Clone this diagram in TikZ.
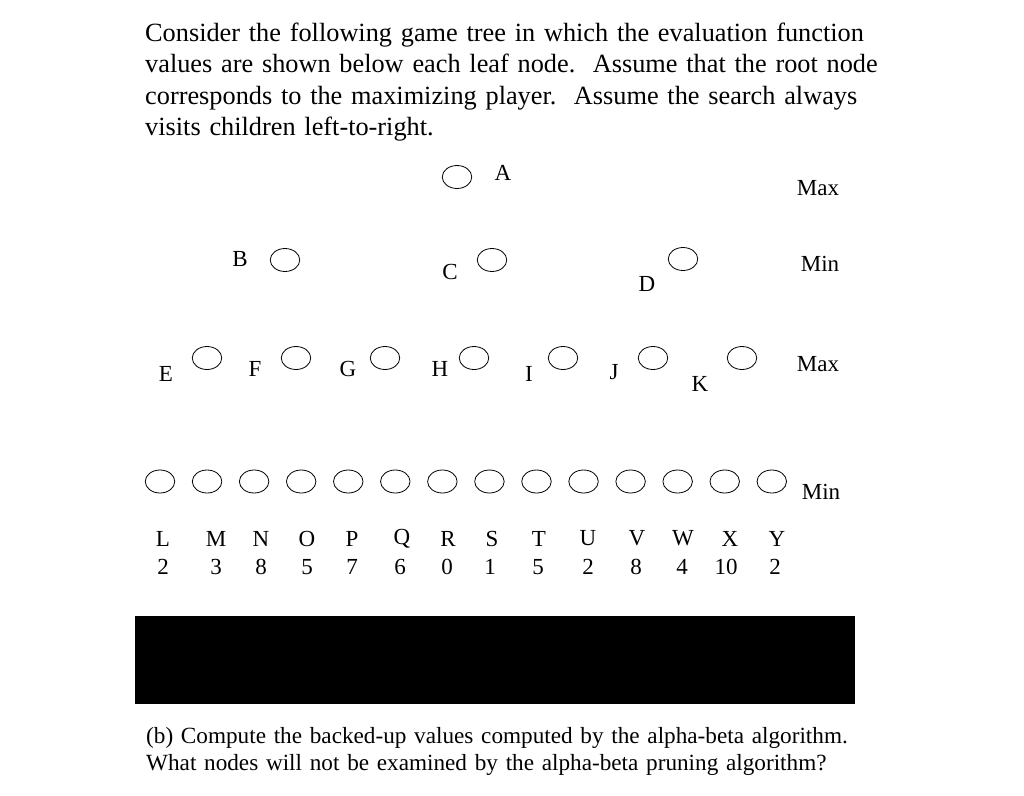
\documentclass[tikz,border=0pt]{standalone}
\usepackage{fontspec}
\setmainfont{Liberation Serif}
\usetikzlibrary{shapes.geometric}

\begin{document}
\begin{tikzpicture}[x=1pt, y=-1pt, node distance=47.06pt,
  state/.style={draw, ellipse, minimum width=29.5pt, minimum height=23pt, inner sep=0pt, line width=0.8pt},
  lbl/.style={font=\fontsize{23}{26}\selectfont, inner sep=0pt}]
  \useasboundingbox (0,0) rectangle (1024,795);

  \node[anchor=base west, text width=800pt, inner sep=0pt, font=\fontsize{26.3}{31.2}\selectfont] (intro) at (145,41.7)
    {Consider the following game tree in which the evaluation function\\
     values are shown below each leaf node.\ \ Assume that the root node\\
     corresponds to the maximizing player.\ \ Assume the search always\\
     visits children left-to-right.};

  % max and min levels
  \node[lbl] (lv1) at (818,188) {Max};
  \node[lbl] (lv2) at (820,264) {Min};
  \node[lbl] (lv3) at (818,364) {Max};
  \node[lbl] (lv4) at (821,492) {Min};

  \node[state] (A) at (457,177) {};
  \node[lbl] (lA) at (503,173) {A};
  \node[state] (B) at (285,260) {};
  \node[lbl] (lB) at (240,259) {B};
  \node[state] (C) at (492,260) {};
  \node[lbl] (lC) at (450,272) {C};
  \node[state] (D) at (683,259) {};
  \node[lbl] (lD) at (647,284) {D};

  \foreach \n/\x/\lx/\ly in {E/207/166/374, F/296/255/369, G/385/348/369, H/474/440/369,
                             I/563/529/374, J/653/614/372, K/742/700/384}
  {
    \node[state] (\n) at (\x,358) {};
    \node[lbl] (l\n) at (\lx,\ly) {\n};
  }

  % leaves
  \node[state] (L) at (160,481.5) {};
  \foreach \n [remember=\n as \p (initially L)] in {M,N,O,P,Q,R,S,T,U,V,W,X,Y}
    \node[state, right of=\p] (\n) {};

  \foreach \n/\x/\v/\vx in {L/163/2/163, M/216/3/216, N/261/8/261, O/307/5/307, P/352/7/352,
                            Q/402/6/400, R/448/0/447, S/492/1/490, T/539/5/538, U/588/2/588,
                            V/637/8/636, W/683/4/682, X/730/10/726, Y/777/2/775}
  {
    \node[lbl] (l\n) at (\x,538.5) {\n};
    \node[lbl] (v\n) at (\vx,566.7) {\v};
  }

  \fill (135,616) rectangle (855,704);

  \node[anchor=base west, text width=800pt, inner sep=0pt, font=\fontsize{23.2}{27.2}\selectfont] (part) at (146,743)
    {(b) Compute the backed-up values computed by the alpha-beta algorithm.\\
     What nodes will not be examined by the alpha-beta pruning algorithm?};
\end{tikzpicture}
\end{document}
